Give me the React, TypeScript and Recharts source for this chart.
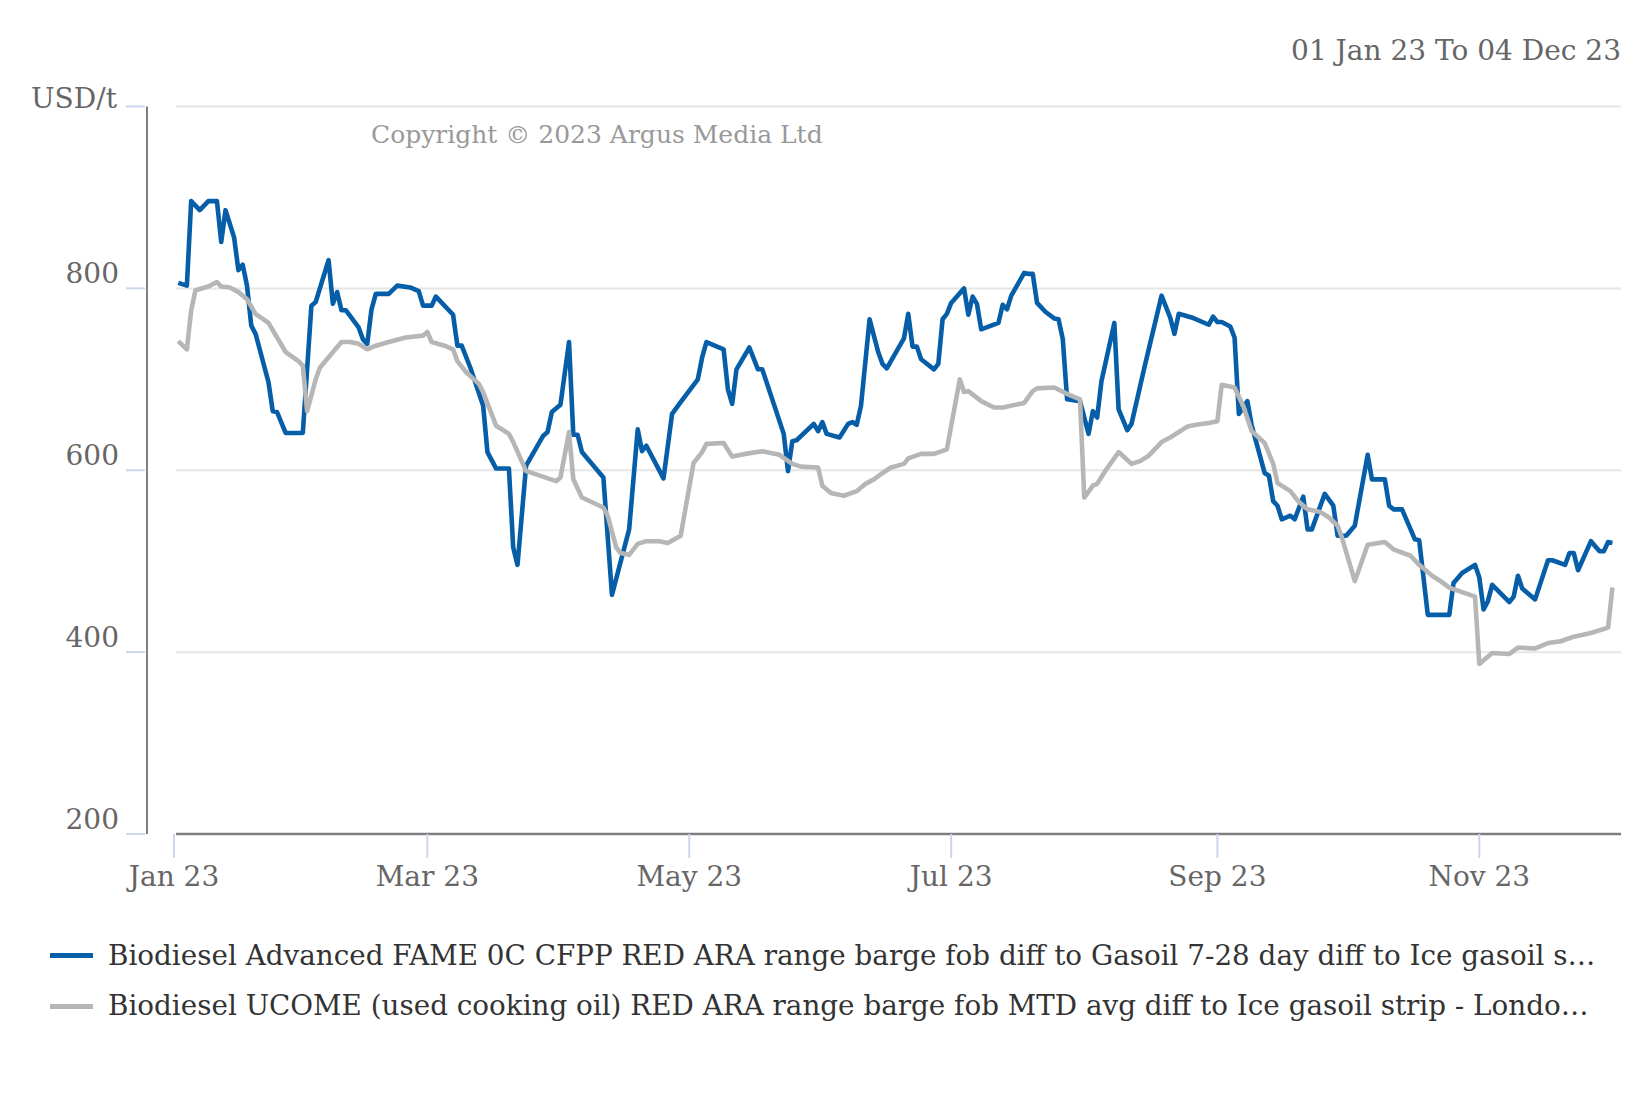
import { LineChart, Line, XAxis, YAxis, CartesianGrid } from 'recharts'

const FONT = '"DejaVu Serif", serif'

const xTickDays = [0, 59, 120, 181, 243, 304]
const xTickLabels = ['Jan 23', 'Mar 23', 'May 23', 'Jul 23', 'Sep 23', 'Nov 23']
const yTicks = [200, 400, 600, 800, 1000]

const seriesNames = [
  'Biodiesel Advanced FAME 0C CFPP RED ARA range barge fob diff to Gasoil 7-28 day diff to Ice gasoil s…',
  'Biodiesel UCOME (used cooking oil) RED ARA range barge fob MTD avg diff to Ice gasoil strip - Londo…',
]
const seriesColors = ['#065ea8', '#b6b6b6']

// days counted from 01 Jan 23
const fameDays = [
  1, 3, 4, 6, 8, 10, 11, 12, 14, 15, 16, 17, 18, 19, 22, 23, 24, 26, 30, 32, 33, 36, 37, 38, 39, 40,
  43, 44, 45, 46, 47, 50, 52, 55, 57, 58, 60, 61, 65, 66, 67, 69, 72, 73, 75, 78, 79, 80, 82, 86, 87,
  88, 90, 92, 93, 94, 95, 100, 102, 106, 108, 109, 110, 114, 116, 118, 122, 123, 124, 128, 129, 130,
  131, 134, 136, 137, 142, 143, 144, 145, 149, 150, 151, 152, 155, 157, 158, 159, 160, 162, 164, 165,
  166, 170, 171, 172, 173, 174, 177, 178, 179, 180, 181, 184, 185, 186, 187, 188, 192, 193, 194, 195,
  198, 199, 200, 201, 203, 205, 206, 207, 208, 211, 213, 214, 215, 216, 219, 220, 222, 223, 226, 230,
  232, 233, 234, 237, 241, 242, 243, 244, 246, 247, 248, 250, 251, 254, 255, 256, 257, 258, 260, 261,
  263, 264, 265, 268, 270, 271, 273, 275, 278, 279, 282, 283, 284, 286, 289, 290, 292, 297, 298, 300,
  303, 304, 305, 306, 307, 311, 312, 313, 314, 317, 320, 321, 324, 325, 326, 327, 330, 332, 333, 334, 335,
]
const fameValues = [
  806, 803, 896, 886, 896, 896, 851, 886, 856, 820, 826, 803, 759, 750, 697, 665, 664, 641, 641, 781,
  785, 831, 783, 796, 776, 776, 757, 744, 739, 777, 794, 794, 803, 801, 797, 781, 781, 791, 771, 737,
  737, 713, 671, 620, 602, 602, 515, 496, 605, 638, 642, 664, 672, 741, 639, 639, 620, 592, 463, 535,
  645, 621, 627, 591, 662, 675, 700, 724, 741, 733, 689, 673, 711, 735, 711, 711, 640, 599, 632, 633,
  651, 643, 653, 640, 636, 651, 653, 650, 671, 766, 730, 717, 712, 745, 772, 736, 736, 722, 711, 717,
  766, 772, 784, 800, 771, 791, 783, 755, 762, 782, 777, 792, 817, 816, 816, 784, 774, 767, 766, 744,
  678, 676, 640, 665, 658, 698, 762, 667, 644, 651, 713, 792, 768, 750, 772, 768, 760, 769, 763, 763,
  758, 746, 662, 676, 649, 597, 594, 566, 561, 546, 550, 546, 571, 535, 535, 574, 561, 528, 528, 539,
  617, 590, 590, 561, 557, 557, 524, 523, 441, 441, 476, 487, 496, 482, 447, 456, 474, 455, 461, 484,
  470, 458, 501, 501, 496, 509, 509, 490, 522, 511, 511, 521, 520,
]

const ucomeDays = [
  1, 3, 4, 5, 8, 10, 11, 13, 15, 17, 19, 22, 26, 29, 30, 31, 33, 34, 39, 41, 43, 45, 47, 50, 54, 58,
  59, 60, 63, 65, 66, 68, 71, 72, 75, 78, 79, 82, 84, 89, 90, 92, 93, 95, 100, 101, 103, 104, 106, 108,
  110, 113, 115, 118, 121, 123, 124, 128, 130, 133, 137, 141, 144, 146, 150, 151, 153, 156, 159, 161,
  163, 165, 167, 170, 171, 174, 177, 180, 183, 184, 185, 188, 191, 193, 198, 200, 201, 205, 208, 211,
  212, 214, 215, 217, 220, 223, 225, 227, 230, 232, 236, 238, 241, 243, 244, 247, 249, 251, 254, 256,
  257, 260, 262, 264, 267, 269, 271, 272, 275, 278, 282, 284, 288, 290, 293, 295, 297, 300, 303, 304,
  307, 311, 313, 317, 320, 323, 326, 330, 334, 335,
]
const ucomeValues = [
  742, 733, 776, 798, 802, 807, 802, 801, 796, 788, 772, 762, 730, 720, 715, 665, 700, 713, 741, 741,
  739, 733, 737, 741, 746, 748, 752, 741, 737, 733, 720, 708, 695, 686, 649, 640, 631, 599, 596, 588,
  592, 642, 590, 570, 559, 550, 515, 509, 507, 519, 522, 522, 520, 528, 608, 620, 629, 630, 615, 618,
  621, 617, 607, 604, 603, 583, 575, 572, 577, 585, 590, 597, 603, 607, 613, 618, 618, 623, 700, 686,
  687, 676, 669, 669, 674, 687, 690, 691, 684, 678, 570, 583, 585, 600, 620, 607, 610, 616, 631, 636,
  648, 650, 652, 654, 694, 691, 671, 643, 630, 607, 586, 577, 565, 557, 554, 548, 539, 526, 478, 518,
  521, 513, 506, 496, 484, 478, 471, 466, 461, 387, 399, 398, 405, 404, 410, 412, 417, 421, 427, 471,
]

const fameData = fameDays.map((day, i) => ({ day, value: fameValues[i] }))
const ucomeData = ucomeDays.map((day, i) => ({ day, value: ucomeValues[i] }))

const PLOT_TOP = 106.5
const PLOT_BOTTOM = 834
const PLOT_RIGHT = 1621
const Y_AXIS_X = 147

const GridLine = (p: any) => {
  const isBase = Math.abs(p.y1 - PLOT_BOTTOM) < 1
  return (
    <line
      key={p.key}
      x1={176}
      x2={p.x2}
      y1={p.y1}
      y2={p.y2}
      stroke={isBase ? '#7f7f7f' : '#e6e6e6'}
      strokeWidth={isBase ? 2.5 : 2}
    />
  )
}

const YTick = ({ y, payload }: any) => (
  <g>
    <line x1={126} x2={145} y1={y} y2={y} stroke="#ccd6eb" strokeWidth={2} />
    {payload.value !== 1000 && (
      <text x={119} y={y - 15} dy="0.355em" textAnchor="end" fill="#666666" fontSize={28} fontFamily={FONT}>
        {payload.value}
      </text>
    )}
  </g>
)

export default function App() {
  return (
    <div style={{ position: 'absolute', left: 0, top: 0, width: 1650, height: 1100, background: '#fff', fontFamily: FONT }}>
      <LineChart
        width={1650}
        height={1100}
        margin={{ top: PLOT_TOP, right: 1650 - PLOT_RIGHT, bottom: 1100 - PLOT_BOTTOM - 60, left: 0 }}
      >
        <CartesianGrid vertical={false} horizontal={GridLine} />
        <XAxis
          type="number"
          dataKey="day"
          domain={[0, 337]}
          ticks={xTickDays}
          interval={0}
          allowDataOverflow
          tickFormatter={(d: number) => xTickLabels[xTickDays.indexOf(d)] ?? ''}
          padding={{ left: 27, right: 0 }}
          axisLine={false}
          tickLine={{ stroke: '#ccd6eb', strokeWidth: 2 }}
          tickSize={24}
          tickMargin={8}
          tick={{ fill: '#666666', fontSize: 28, fontFamily: FONT }}
          height={60}
        />
        <YAxis
          type="number"
          domain={[200, 1000]}
          ticks={yTicks}
          interval={0}
          width={Y_AXIS_X}
          axisLine={{ stroke: '#7f7f7f', strokeWidth: 2 }}
          tickLine={false}
          tick={<YTick />}
        />
        <Line
          data={fameData}
          dataKey="value"
          name={seriesNames[0]}
          type="linear"
          stroke={seriesColors[0]}
          strokeWidth={4.6}
          strokeLinejoin="round"
          dot={false}
          activeDot={false}
          isAnimationActive={false}
        />
        <Line
          data={ucomeData}
          dataKey="value"
          name={seriesNames[1]}
          type="linear"
          stroke={seriesColors[1]}
          strokeWidth={4.6}
          strokeLinejoin="round"
          dot={false}
          activeDot={false}
          isAnimationActive={false}
        />
      </LineChart>

      <div style={{ position: 'absolute', right: 29, top: 30.5, lineHeight: '40px', fontSize: 28, color: '#666666', whiteSpace: 'nowrap' }}>
        01 Jan 23 To 04 Dec 23
      </div>
      <div style={{ position: 'absolute', left: 31, top: 79, lineHeight: '40px', fontSize: 28, color: '#666666' }}>
        USD/t
      </div>
      <div style={{ position: 'absolute', left: 371, top: 115, lineHeight: '40px', fontSize: 25, color: '#999999', whiteSpace: 'nowrap' }}>
        Copyright © 2023 Argus Media Ltd
      </div>

      {/* legend */}
      {seriesNames.map((name, i) => (
        <div
          key={name}
          style={{ position: 'absolute', left: 50, top: 935.5 + i * 50.5, height: 40, display: 'flex', alignItems: 'center', whiteSpace: 'nowrap' }}
        >
          <div style={{ width: 43, height: 5, background: seriesColors[i], marginRight: 15 }} />
          <span style={{ fontSize: 27.8, lineHeight: '40px', color: '#333333' }}>{name}</span>
        </div>
      ))}
    </div>
  )
}
